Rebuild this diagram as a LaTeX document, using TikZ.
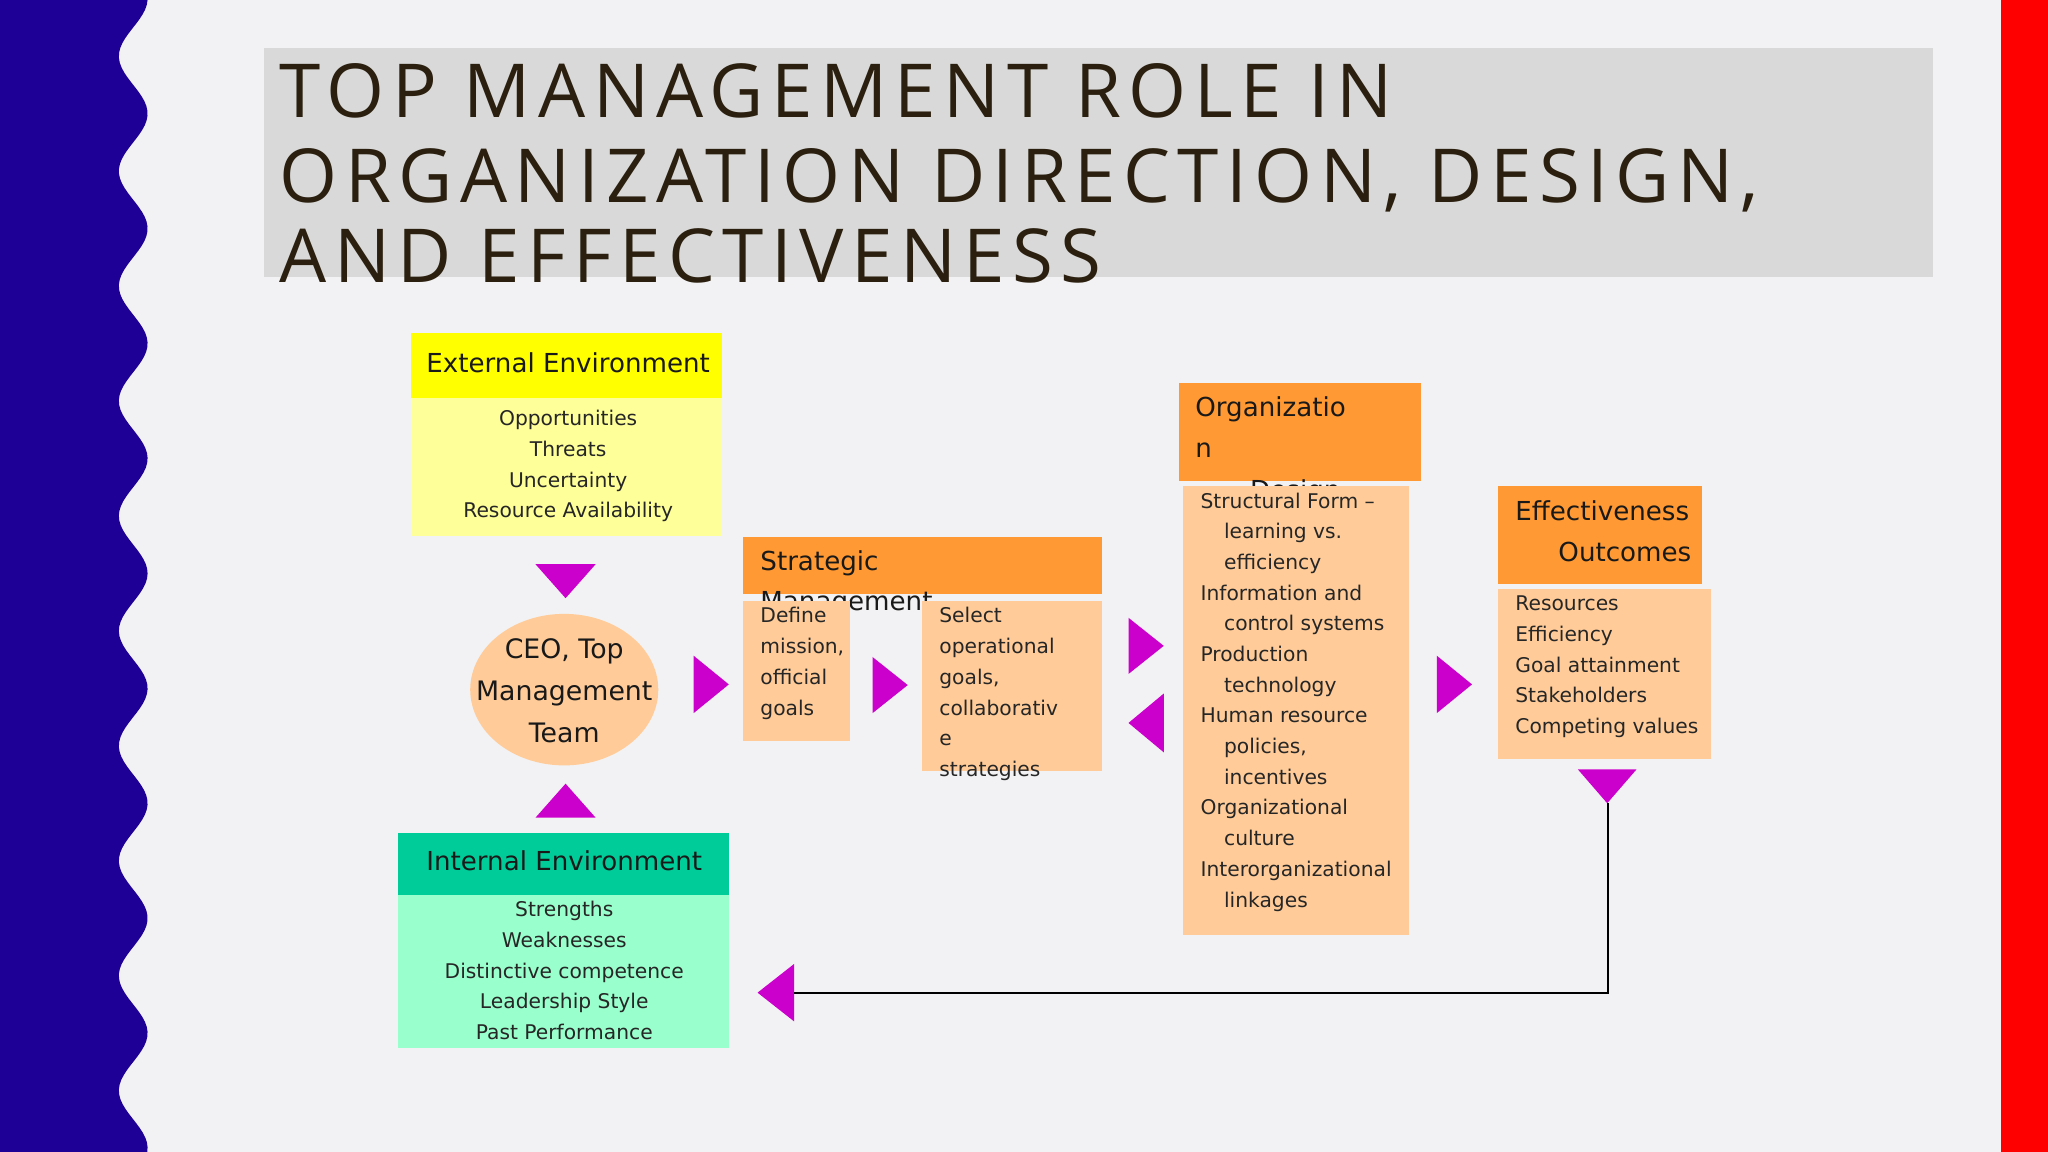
\documentclass[tikz,border=0pt]{standalone}
\usepackage{fontspec}
\usetikzlibrary{shapes.geometric}
\setmainfont{DejaVu Sans}
\newfontfamily\titlefont[LetterSpace=10]{Open Sans}
\definecolor{bg}{HTML}{F2F2F4}
\definecolor{bandblue}{HTML}{1E0096}
\definecolor{titlegray}{HTML}{D9D9D9}
\definecolor{titletext}{HTML}{2B200F}
\definecolor{mag}{HTML}{CC00CC}
\definecolor{peach}{HTML}{FFCC99}
\definecolor{orng}{HTML}{FF9933}
\definecolor{yel}{HTML}{FFFF00}
\definecolor{lyel}{HTML}{FFFF99}
\definecolor{teal}{HTML}{00CC99}
\definecolor{lteal}{HTML}{99FFCC}
\tikzset{
 tri/.style={fill=mag,draw=none},
 body/.style={font=\fontsize{15.5}{23.5}\selectfont,text=black!85,inner sep=0},
 head/.style={font=\fontsize{20}{31}\selectfont,text=black!90,inner sep=0},
}
\begin{document}
\begin{tikzpicture}[x=1pt,y=-1pt]
\fill[bg] (0,0) rectangle (1568,882);
\useasboundingbox (0,0) rectangle (1568,882);
\fill[bandblue] (0,0) -- plot[domain=0:882,samples=240] ({102+11*cos((\x-87)/88*360)},\x) -- (0,882) -- cycle;
\fill[red] (1532,0) rectangle (1568,882);
% title
\fill[titlegray] (202,37) rectangle (1480,212);
\node[anchor=base west,inner sep=0,text=titletext,font=\titlefont\fontsize{57}{65}\selectfont] (t1) at (214,90) {TOP MANAGEMENT ROLE IN};
\node[anchor=base west,inner sep=0,text=titletext,font=\titlefont\fontsize{57}{65}\selectfont] (t2) at (214,155) {ORGANIZATION DIRECTION, DESIGN,};
\node[anchor=base west,inner sep=0,text=titletext,font=\titlefont\fontsize{57}{65}\selectfont] (t3) at (214,216) {AND EFFECTIVENESS};
% external
\fill[yel] (315,255) rectangle (553,305);
\fill[lyel] (315,305) rectangle (553,410);
\node[head,font=\fontsize{20}{28}\selectfont] (ext) at (435,278) {External Environment};
\node[body,align=center] (extb) at (435,357) {Opportunities\\Threats\\Uncertainty\\Resource Availability};
% internal
\fill[teal] (305,638) rectangle (558,685);
\fill[lteal] (305,685) rectangle (558,802);
\node[head,font=\fontsize{20}{28}\selectfont] (int) at (432,659) {Internal Environment};
\node[body,align=center] (intb) at (432,743) {Strengths\\Weaknesses\\Distinctive competence\\Leadership Style\\Past Performance};
% CEO
\node[ellipse,fill=peach,minimum width=144,minimum height=116,inner sep=0] (ceo) at (432,528) {};
\node[head,align=center,font=\fontsize{20.5}{32}\selectfont] (ceot) at (432,529) {CEO, Top\\Management\\Team};
% triangles
\fill[tri] (410,432) -- (456,432) -- (433,458) -- cycle;
\fill[tri] (410,626) -- (456,626) -- (433,600) -- cycle;
\fill[tri] (531,502) -- (558,524) -- (531,546) -- cycle;
\fill[tri] (668,503) -- (695,524.5) -- (668,546) -- cycle;
\fill[tri] (864,473) -- (891,494.5) -- (864,516) -- cycle;
\fill[tri] (891,531) -- (864,553.5) -- (891,576) -- cycle;
\fill[tri] (1100,502) -- (1127,524) -- (1100,546) -- cycle;
\fill[tri] (1208,589) -- (1253,589) -- (1230.5,615) -- cycle;
\fill[tri] (608,738) -- (580,760) -- (608,782) -- cycle;
% strategic
\fill[orng] (569,411) rectangle (844,455);
\node[head,anchor=west] (st1) at (582,431) {Strategic};
\node[head,anchor=west] (st2) at (582,462) {Management};
\fill[peach] (569,460) rectangle (651,567);
\fill[peach] (706,460) rectangle (844,590);
\node[body,anchor=north west,align=left] (def) at (582,465) {Define\\mission,\\official\\goals};
\node[body,anchor=north west,align=left] (sel) at (719,465) {Select\\operational\\goals,\\collaborativ\\e\\strategies};
% org design
\fill[orng] (903,293) rectangle (1088,368);
\node[head,anchor=west] (od1) at (915,313) {Organizatio};
\node[head,anchor=west] (od2) at (915,345) {n};
\node[head,anchor=west] (od3) at (957,377) {Design};
\fill[peach] (906,372) rectangle (1079,716);
\node[body,anchor=north west,align=left] (odb) at (919,377) {Structural Form --\\\hspace*{18pt}learning vs.\\\hspace*{18pt}efficiency\\Information and\\\hspace*{18pt}control systems\\Production\\\hspace*{18pt}technology\\Human resource\\\hspace*{18pt}policies,\\\hspace*{18pt}incentives\\Organizational\\\hspace*{18pt}culture\\Interorganizational\\\hspace*{18pt}linkages};
% effectiveness
\fill[orng] (1147,372) rectangle (1303,447);
\node[head,anchor=west] (ef1) at (1160,391) {Effectiveness};
\node[head,anchor=west] (ef2) at (1193,423) {Outcomes};
\fill[peach] (1147,451) rectangle (1310,581);
\node[body,anchor=north west,align=left] (efb) at (1160,456) {Resources\\Efficiency\\Goal attainment\\Stakeholders\\Competing values};
% feedback line
\coordinate (fb1) at (1231,615);
\coordinate (fb2) at (1231,760);
\coordinate (fb3) at (608,760);
\draw[black,line width=1.5] (fb1) -- (fb2) -- (fb3);
\end{tikzpicture}
\end{document}
